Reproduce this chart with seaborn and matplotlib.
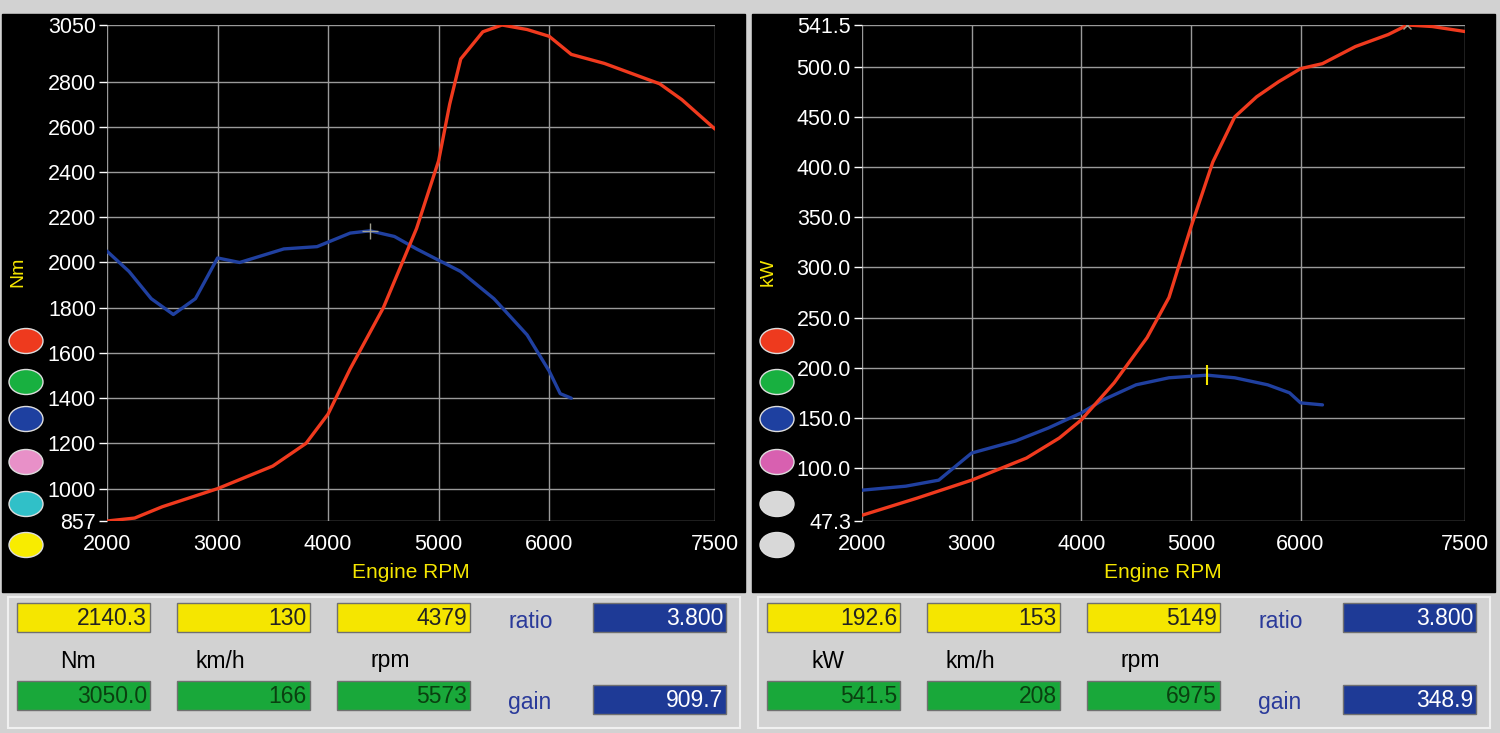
import matplotlib
matplotlib.use("Agg")
import matplotlib.pyplot as plt
import seaborn as sns
import pandas as pd
from matplotlib.patches import Rectangle, Ellipse

sns.set_style("dark")
plt.rcParams['font.family'] = ['Liberation Sans', 'DejaVu Sans']

# ---- data ----
t_red_rpm = [2000, 2250, 2500, 3000, 3500, 3800, 4000, 4200, 4500, 4800, 5000, 5100, 5200, 5400, 5573, 5800, 6000, 6200, 6500, 7000, 7200, 7500]
t_red_val = [857, 870, 920, 1000, 1100, 1200, 1330, 1530, 1800, 2150, 2450, 2700, 2900, 3020, 3050, 3030, 3000, 2920, 2880, 2790, 2720, 2590]
t_blue_rpm = [2000, 2200, 2400, 2600, 2800, 3000, 3200, 3400, 3600, 3900, 4200, 4379, 4600, 4800, 5000, 5200, 5500, 5800, 6000, 6100, 6200]
t_blue_val = [2050, 1960, 1840, 1770, 1840, 2020, 2000, 2030, 2060, 2070, 2130, 2140, 2115, 2060, 2010, 1960, 1840, 1680, 1520, 1420, 1400]
p_red_rpm = [2000, 2500, 3000, 3500, 3800, 4000, 4300, 4600, 4800, 5000, 5200, 5400, 5600, 5800, 6000, 6200, 6500, 6800, 6975, 7200, 7500]
p_red_val = [53, 70, 88, 110, 130, 148, 185, 230, 270, 340, 405, 450, 470, 485, 498, 503, 520, 532, 541.5, 540, 535]
p_blue_rpm = [2000, 2400, 2700, 3000, 3400, 3700, 4000, 4200, 4500, 4800, 5149, 5400, 5700, 5900, 6000, 6200]
p_blue_val = [78, 82, 88, 115, 127, 140, 155, 168, 183, 190, 192.6, 190, 183, 175, 165, 163]

t_yticks = [857, 1000, 1200, 1400, 1600, 1800, 2000, 2200, 2400, 2600, 2800, 3050]
p_yticks = [47.3, 100, 150, 200, 250, 300, 350, 400, 450, 500, 541.5]
xticks = [2000, 3000, 4000, 5000, 6000, 7500]

left_top = ["2140.3", "130", "4379"]
left_bot = ["3050.0", "166", "5573"]
left_units = ["Nm", "km/h", "rpm"]
left_blue = ["3.800", "909.7"]
right_top = ["192.6", "153", "5149"]
right_bot = ["541.5", "208", "6975"]
right_units = ["kW", "km/h", "rpm"]
right_blue = ["3.800", "348.9"]

W, H = 1500, 733
fig = plt.figure(figsize=(15, 7.33), dpi=100, facecolor="#d2d2d2")
ov = fig.add_axes([0, 0, 1, 1], zorder=0)
ov.set_xlim(0, W); ov.set_ylim(H, 0); ov.axis("off")

for x0 in (2, 752):
    ov.add_patch(Rectangle((x0, 14), 743, 578, color="black"))
    ov.add_patch(Rectangle((x0 + 6, 597), 732, 131, facecolor="#d2d2d2", edgecolor="#f0f0f0", lw=1.5))

def box(x, y, w, h, fc, txt, tc):
    ov.add_patch(Rectangle((x, y), w, h, facecolor=fc, edgecolor="#707070", lw=1))
    ov.text(x + w - 3, y + h / 2 + 1, txt, ha="right", va="center", fontsize=16.5, color=tc)

def bottom(off, top, bot, units, blue):
    xs = [17, 177, 337]
    ux = [78, 220, 390]
    for i in range(3):
        box(off + xs[i], 603, 133, 29, "#f5e600", top[i], "#222222")
        box(off + xs[i], 681, 133, 29, "#19a83a", bot[i], "#0a4010")
        ov.text(off + ux[i], 661, units[i], ha="center", va="center", fontsize=16.5, color="black")
    box(off + 593, 603, 133, 29, "#1e3a96", blue[0], "white")
    box(off + 593, 685, 133, 29, "#1e3a96", blue[1], "white")
    ov.text(off + 508, 622, "ratio", ha="left", va="center", fontsize=16.5, color="#2a3a9a")
    ov.text(off + 508, 702, "gain", ha="left", va="center", fontsize=16.5, color="#2a3a9a")

bottom(0, left_top, left_bot, left_units, left_blue)
bottom(750, right_top, right_bot, right_units, right_blue)

lc = ["#ee3a1e", "#18b040", "#1e40a0", "#e890c8", "#30c0c8", "#f8ec00"]
rc = ["#ee3a1e", "#18b040", "#1e40a0", "#d860b0", "#d8d8d8", "#d8d8d8"]
cy = [341, 382, 419, 462, 504, 545]
for c, y in zip(lc, cy):
    ov.add_patch(Ellipse((26, y), 34, 25, facecolor=c, edgecolor="#dddddd", lw=1))
for c, y in zip(rc, cy):
    ov.add_patch(Ellipse((777, y), 34, 25, facecolor=c, edgecolor="#dddddd", lw=1))

def make(px0, px1, py0, py1, ylim, yticks, ylabels, rpm1, v1, rpm2, v2, ylab, xlab_x, ylab_x):
    ax = fig.add_axes([px0 / W, 1 - py1 / H, (px1 - px0) / W, (py1 - py0) / H], zorder=2)
    ax.set_facecolor("black")
    ax.patch.set_alpha(0)
    for s in ax.spines.values():
        s.set_visible(False)
    sns.lineplot(x=rpm2, y=v2, ax=ax, color="#2040a0", lw=2.4, sort=False,
                 solid_joinstyle="round", solid_capstyle="round")
    sns.lineplot(x=rpm1, y=v1, ax=ax, color="#f03a1e", lw=2.4, sort=False,
                 solid_joinstyle="round", solid_capstyle="round")
    ax.set_xlim(2000, 7500); ax.set_ylim(*ylim)
    ax.set_xticks(xticks); ax.set_yticks(yticks)
    ax.set_yticklabels(ylabels)
    ax.grid(True, color="#9a9a9a", lw=1)
    ax.tick_params(axis="y", colors="white", labelsize=15.5, length=6, width=1, left=True, pad=2)
    ax.tick_params(axis="x", colors="white", labelsize=15.5, length=0, pad=9)
    ax.set_xlabel(""); ax.set_ylabel("")
    ov.text(xlab_x, 572, "Engine RPM", ha="center", va="center", fontsize=15, color="#f5e600")
    ov.text(ylab_x, 272, ylab, ha="center", va="center", rotation=90, fontsize=14, color="#f5e600")
    return ax

axl = make(107, 715, 25, 521, (857, 3050), t_yticks, [str(v) for v in t_yticks],
           t_red_rpm, t_red_val, t_blue_rpm, t_blue_val, "Nm", 411, 18)
axl.plot([4379], [2140.3], marker="+", ms=12, color="#a0a090", mew=1)
axr = make(862, 1465, 25, 521, (47.3, 541.5), p_yticks, [f"{v:.1f}" for v in p_yticks],
           p_red_rpm, p_red_val, p_blue_rpm, p_blue_val, "kW", 1163, 768)
axr.plot([5149], [192.6], marker="|", ms=14, color="#f5e600", mew=1.5)
axr.plot([6975], [541.5], marker="x", ms=6, color="#a0a090", mew=1)

fig.savefig("out.png", dpi=100, facecolor=fig.get_facecolor())
